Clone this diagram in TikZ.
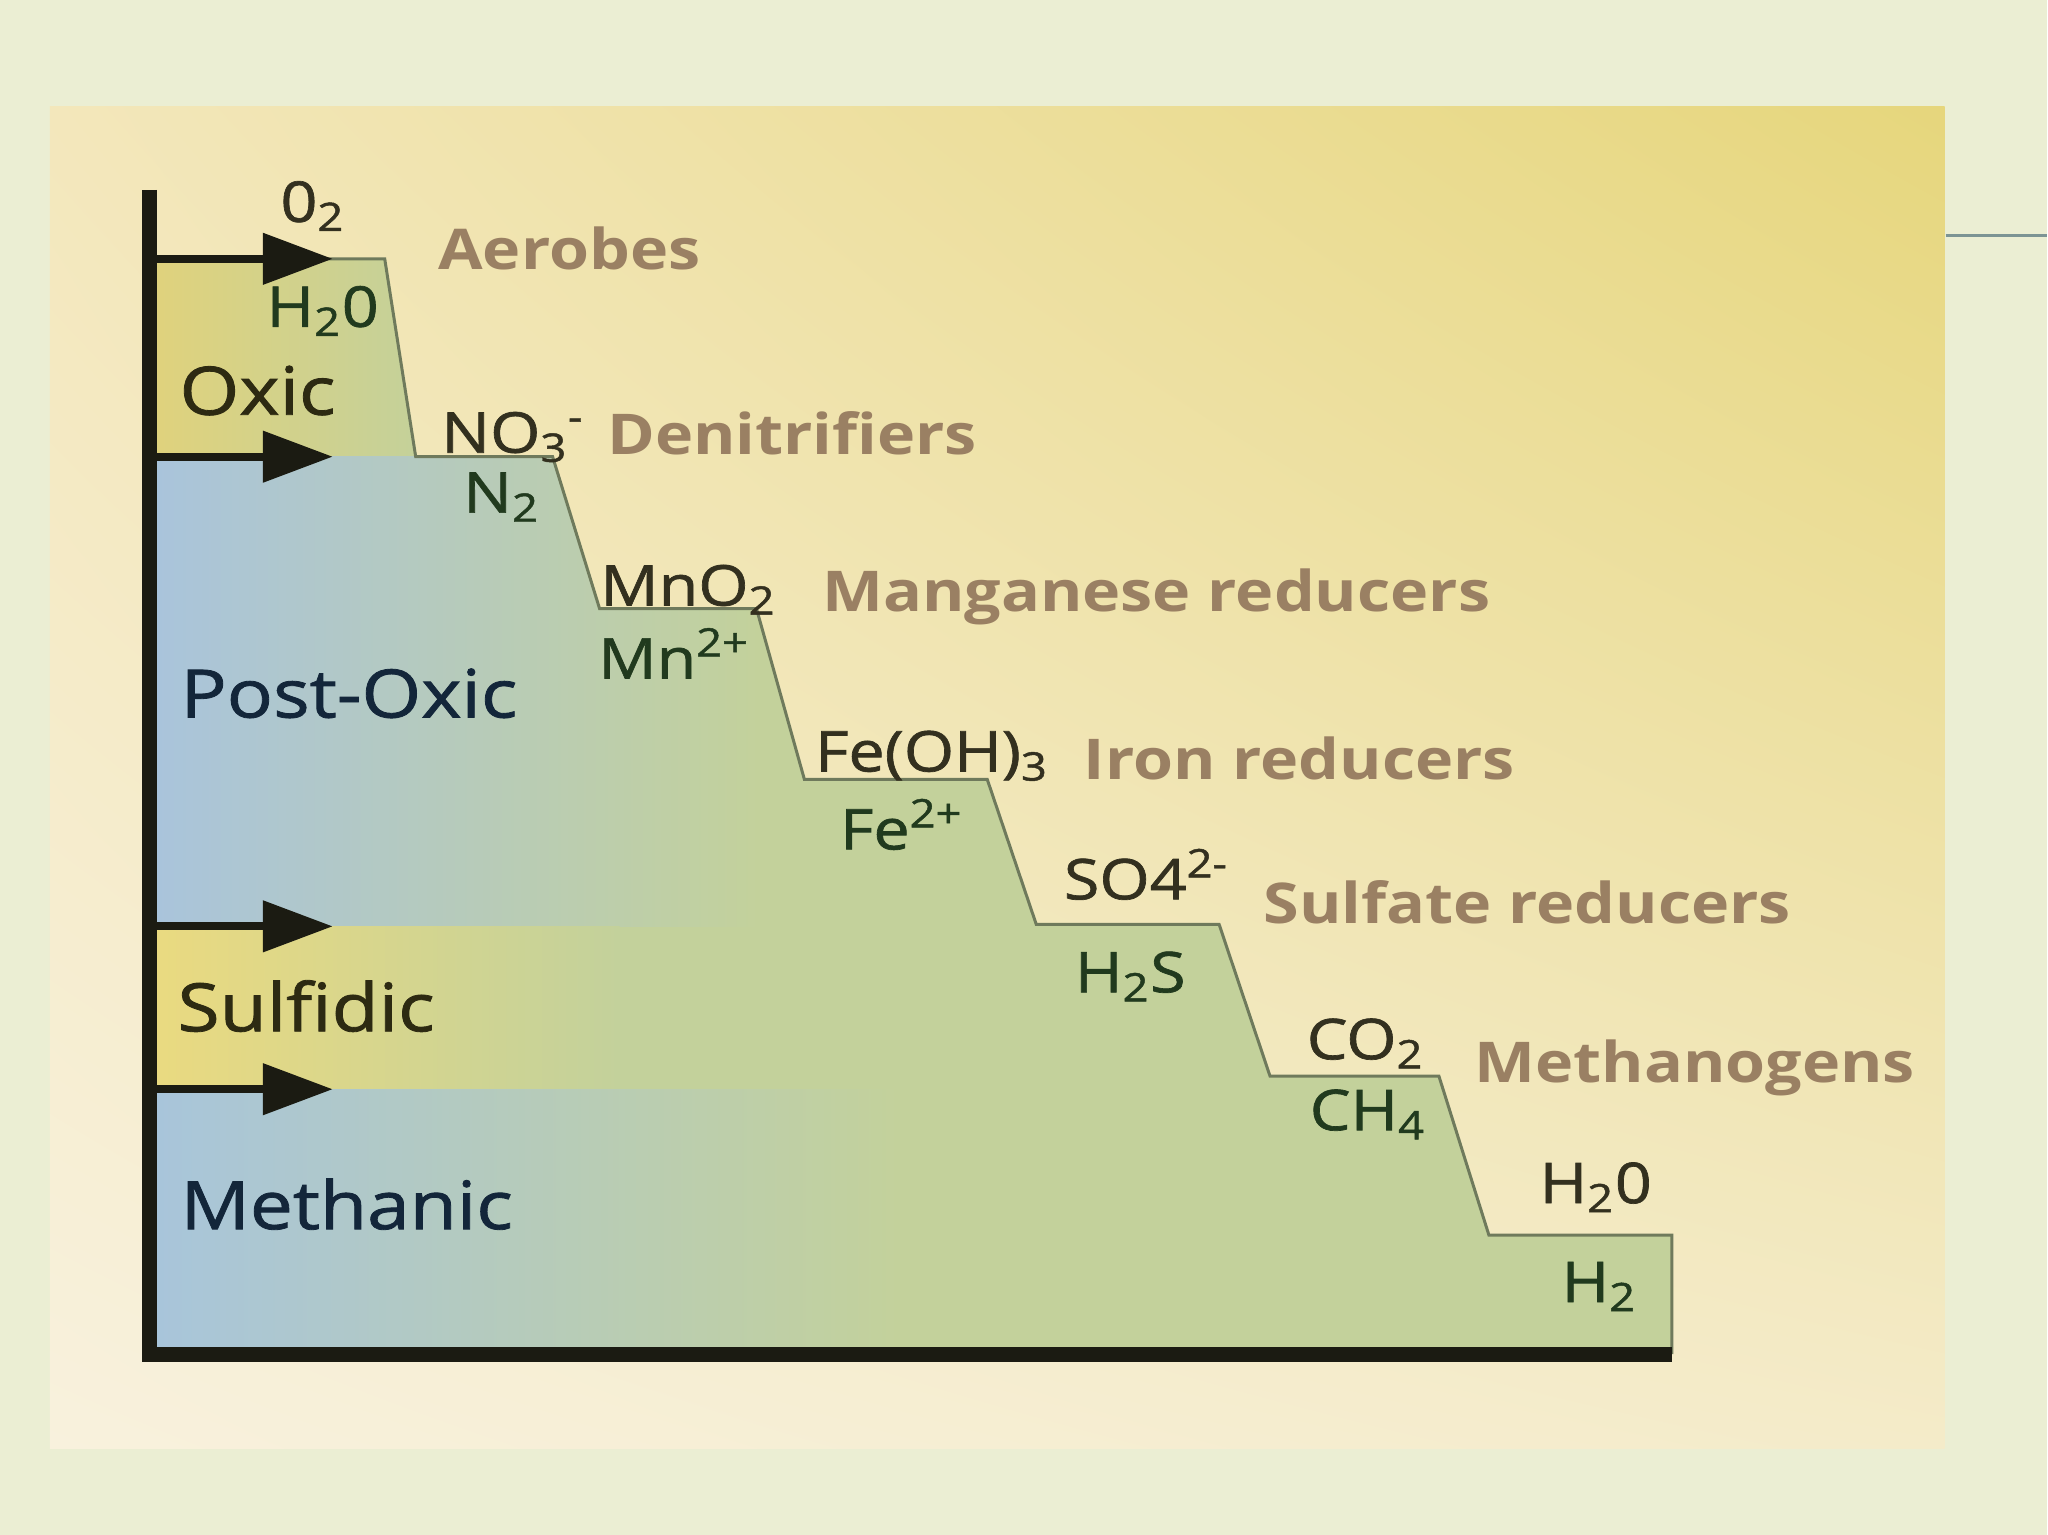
\documentclass[tikz,border=0pt]{standalone}
\usepackage{fontspec}
\setmainfont{Open Sans}[FakeStretch=1.15]
\newfontfamily\labelfont{Open Sans}[FakeStretch=1.15, FakeBold=1.2]
\usepackage{xcolor}
\usetikzlibrary{arrows.meta,shadings}

\definecolor{slidebg}{HTML}{EBEED3}
\definecolor{panelTL}{HTML}{F3E7BB}
\definecolor{panelTR}{HTML}{E6D67C}
\definecolor{panelBL}{HTML}{F8F1DD}
\definecolor{panelBR}{HTML}{F4EBC9}
\definecolor{rulecol}{HTML}{7C9494}
\definecolor{stepgreen}{HTML}{C3D19B}
\definecolor{stepline}{HTML}{6F7A5C}
\definecolor{oxicyel}{HTML}{E0D27C}
\definecolor{sulfyel}{HTML}{EADA80}
\definecolor{postblue}{HTML}{A9C4DC}
\definecolor{methblue}{HTML}{A8C5DB}
\definecolor{axiscol}{HTML}{1B1B12}
\definecolor{microbecol}{HTML}{9A8063}
\definecolor{oxcol}{HTML}{33301F}
\definecolor{redcol}{HTML}{213A1E}
\definecolor{zonenavy}{HTML}{13263A}
\definecolor{zoneolive}{HTML}{2D2A12}

\tikzset{
  zonelabel/.style={anchor=base west, inner sep=0pt, font=\labelfont\fontsize{19}{21}\selectfont},
  microbe/.style={anchor=base west, inner sep=0pt, text=microbecol, font=\bfseries\fontsize{16}{18}\selectfont},
  oxlabel/.style={anchor=base west, inner sep=0pt, text=oxcol, font=\labelfont\fontsize{16}{18}\selectfont},
  redlabel/.style={anchor=base west, inner sep=0pt, text=redcol, font=\labelfont\fontsize{16}{18}\selectfont},
  zonearrow/.style={draw=axiscol, line width=0.8mm, -{Triangle[length=7mm,width=5mm]}}
}

\begin{document}
\begin{tikzpicture}[x=0.1mm, y=-0.1mm]
  % slide and panel
  \fill[slidebg] (0,0) rectangle (2048,1536);
  \shade[upper left=panelTL, upper right=panelTR, lower left=panelBL, lower right=panelBR]
    (50,107) rectangle (1946,1450);
  \draw[rulecol, line width=0.3mm] (1947,236) -- (2048,236);

  % staircase corners
  \coordinate (s0l) at (150,259);  \coordinate (s0r) at (385,259);
  \coordinate (s1l) at (416,457);  \coordinate (s1r) at (553,457);
  \coordinate (s2l) at (600,609);  \coordinate (s2r) at (757,609);
  \coordinate (s3l) at (805,780);  \coordinate (s3r) at (988,780);
  \coordinate (s4l) at (1037,925); \coordinate (s4r) at (1220,925);
  \coordinate (s5l) at (1271,1077);\coordinate (s5r) at (1440,1077);
  \coordinate (s6l) at (1490,1236);\coordinate (s6r) at (1673,1236);
  \coordinate (base) at (1673,1355);
  \coordinate (origin) at (150,1355);
  \coordinate (ytop) at (150,190);

  % filled staircase with zone tints on the left
  \begin{scope}
    \clip (s0l) -- (s0r) -- (s1l) -- (s1r) -- (s2l) -- (s2r) -- (s3l) -- (s3r)
      -- (s4l) -- (s4r) -- (s5l) -- (s5r) -- (s6l) -- (s6r) -- (base) -- (origin) -- cycle;
    \fill[stepgreen] (150,250) rectangle (1680,1360);
    \shade[left color=oxicyel, right color=stepgreen] (150,259) rectangle (430,457);
    \shade[left color=postblue, right color=stepgreen] (150,457) rectangle (760,927);
    \shade[left color=sulfyel, right color=stepgreen] (150,927) rectangle (620,1090);
    \shade[left color=methblue, right color=stepgreen] (150,1090) rectangle (900,1360);
  \end{scope}
  \draw[stepline, line width=0.3mm] (s0l) -- (s0r) -- (s1l) -- (s1r) -- (s2l) -- (s2r)
    -- (s3l) -- (s3r) -- (s4l) -- (s4r) -- (s5l) -- (s5r) -- (s6l) -- (s6r) -- (base);

  % axes
  \draw[axiscol, line width=1.5mm] (ytop) -- (origin) -- (base);

  % zone boundaries
  \foreach \y/\n in {259/a, 457/b, 927/c, 1090/d} {
    \coordinate (tail\n) at (150,\y);
    \coordinate (tip\n) at (333,\y);
    \draw[zonearrow] (tail\n) -- (tip\n);
  }

  % zones
  \node[zonelabel, text=zoneolive] (oxic) at (179,415) {Oxic};
  \node[zonelabel, text=zonenavy] (postoxic) at (180,718) {Post-Oxic};
  \node[zonelabel, text=zoneolive] (sulfidic) at (177,1032) {Sulfidic};
  \node[zonelabel, text=zonenavy] (methanic) at (180,1230) {Methanic};

  % electron acceptors and products
  \node[oxlabel] (otwo) at (280,222) {0\textsubscript{2}};
  \node[redlabel] (water) at (266,327) {H\textsubscript{2}0};
  \node[oxlabel] (nitrate) at (441,453) {NO\textsubscript{3}\textsuperscript{-}};
  \node[redlabel] (ntwo) at (463,513) {N\textsubscript{2}};
  \node[oxlabel] (mnox) at (600,606) {MnO\textsubscript{2}};
  \node[redlabel] (mnion) at (598,679) {Mn\textsuperscript{2+}};
  \node[oxlabel] (feox) at (815,772) {Fe(OH)\textsubscript{3}};
  \node[redlabel] (feion) at (840,850) {Fe\textsuperscript{2+}};
  \node[oxlabel] (sulfate) at (1064,900) {SO4\textsuperscript{2-}};
  \node[redlabel] (hts) at (1075,993) {H\textsubscript{2}S};
  \node[oxlabel] (cotwo) at (1307,1060) {CO\textsubscript{2}};
  \node[redlabel] (methane) at (1310,1131) {CH\textsubscript{4}};
  \node[oxlabel] (waterb) at (1540,1204) {H\textsubscript{2}0};
  \node[redlabel] (htwo) at (1562,1303) {H\textsubscript{2}};

  % microbes
  \node[microbe] (aerobes) at (438,270) {Aerobes};
  \node[microbe] (denit) at (607,455) {Denitrifiers};
  \node[microbe] (manga) at (822,612) {Manganese reducers};
  \node[microbe] (iron) at (1084,780) {Iron reducers};
  \node[microbe] (sulfred) at (1264,924) {Sulfate reducers};
  \node[microbe] (methano) at (1475,1083) {Methanogens};
\end{tikzpicture}
\end{document}
